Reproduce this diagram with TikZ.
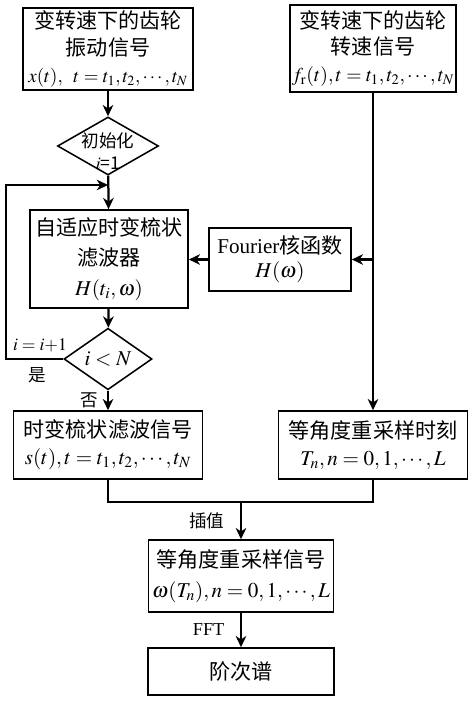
\documentclass[tikz,border=0pt]{standalone}
\usepackage{mathptmx}
\usepackage{fontspec}
\setmainfont{Liberation Serif}
\newfontfamily\cjk{Noto Sans CJK SC}
\usetikzlibrary{arrows.meta,positioning,shapes.geometric,calc}

\begin{document}
\begin{tikzpicture}[x=0.025cm, y=-0.025cm,
            box/.style={draw, line width=1.1pt, rectangle, align=center, inner sep=0pt,
                font=\fontsize{15}{19}\selectfont\cjk},
            decision/.style={draw, line width=1.1pt, diamond, inner sep=0pt},
            flow/.style={draw, line width=1.6pt, -{Stealth[length=8pt,width=7.5pt,inset=2.5pt]}},
            line/.style={draw, line width=1.6pt},
            lab/.style={inner sep=1pt, font=\fontsize{12.5}{14}\selectfont\cjk}]
        \useasboundingbox (0,0) rectangle (474,701);

        % the two input signals
        \node[box, minimum width=4.25cm, minimum height=2.05cm] (vib) at (108,49)
            {变转速下的齿轮\\振动信号\\{\fontsize{13.5}{19}\selectfont$x(t),\ \ t=t_1,t_2,\cdots,t_N$}};
        \node[box, minimum width=4.15cm, minimum height=2.175cm] (rate) at (373,48.5)
            {变转速下的齿轮\\转速信号\\{\fontsize{14}{19}\selectfont$f_{\mathrm{r}}(t),t=t_1,t_2,\cdots,t_N$}};

        % filtering loop
        \node[decision, minimum width=2.525cm, minimum height=1.45cm,
            label={[lab, font=\fontsize{12.5}{15.5}\selectfont\cjk, align=center, yshift=-3.5pt]center:初始化\\$i$=1}]
            (init) at (108,146) {};
        \node[box, minimum width=3.95cm, minimum height=2.45cm,
            font=\fontsize{15}{21.5}\selectfont\cjk] (filter) at (109,259)
            {自适应时变梳状\\滤波器\\$H(t_i,\omega)$};
        \node[box, minimum width=3.55cm, minimum height=1.575cm,
            font=\fontsize{15}{17}\selectfont\cjk] (kernel) at (280,259.5)
            {{\rmfamily Fourier}核函数\\$H(\omega)$};
        \node[decision, minimum width=2.2cm, minimum height=1.1cm,
            font=\fontsize{15}{17}\selectfont] (check) at (108,359) {$i<N$};

        % outputs
        \node[box, minimum width=4.725cm, minimum height=1.7cm] (comb) at (108,445)
            {时变梳状滤波信号\\$s(t),t=t_1,t_2,\cdots,t_N$};
        \node[box, minimum width=4.725cm, minimum height=1.7cm] (instants) at (373,445)
            {等角度重采样时刻\\$T_n,n=0,1,\cdots,L$};
        \node[box, minimum width=4.625cm, minimum height=1.8cm,
            font=\fontsize{15}{21}\selectfont\cjk] (resampled) at (241,576)
            {等角度重采样信号\\$\omega(T_n),n=0,1,\cdots,L$};
        \node[box, minimum width=4.65cm, minimum height=1.175cm] (order) at (241,671.5) {阶次谱};

        \coordinate (join) at (108,185);
        \coordinate (tap) at (rate.south |- kernel.east);
        \coordinate (merge) at (241,502);

        \draw[flow] (vib) -- (init);
        \draw[flow] (init) -- (filter);
        \draw[flow] (check.west) -- ++(-57,0) |- (join);
        \draw[flow] (filter) -- (check);
        \draw[flow] (check) -- node[lab, left=5pt]{否} (comb);
        \node[lab] (incr) at (40,345) {$i=i{+}1$};
        \node[lab] (yes) at (37,375) {是};

        \draw[flow] (rate) -- (instants);
        \draw[flow] (tap) -- (kernel.east);
        \draw[flow] (kernel.west) -- (filter.east |- kernel.west);

        \draw[line] (comb.south) |- (merge) -| (instants.south);
        \draw[flow] (merge) -- node[lab, left=10pt]{插值} (resampled);
        \draw[flow] (resampled) -- node[lab, left=10pt, font=\fontsize{13}{15}\selectfont]{FFT} (order);
\end{tikzpicture}
\end{document}
